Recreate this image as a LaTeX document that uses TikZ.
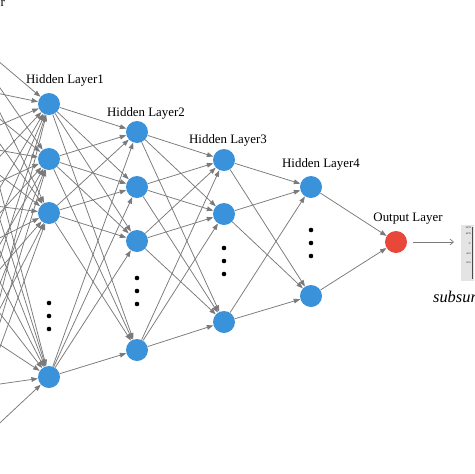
\documentclass[tikz,border=0pt]{standalone}
\usepackage{fontspec}
\setmainfont{Liberation Serif}
\usetikzlibrary{arrows.meta, positioning}
\definecolor{NNblue}{HTML}{3A92DB}
\definecolor{NNred}{HTML}{E8473A}
\definecolor{NNgray}{HTML}{7A7A7A}
\definecolor{NNpanel}{HTML}{E4E4E4}
\begin{document}
\begin{tikzpicture}[x=0.03cm, y=-0.03cm,
   neuron/.style={circle, fill=NNblue, minimum size=0.66cm, inner sep=0pt},
   outneuron/.style={neuron, fill=NNred},
   link/.style={-{Triangle[length=5.5pt, width=4pt]}, NNgray, line width=0.65pt},
   layerlbl/.style={font=\fontsize{11}{12}\selectfont},
   vdot/.style={fill=black}]
   \useasboundingbox (0,0) rectangle (474,474);
   \clip (0,0) rectangle (474,474);
   % Input layer (left of the frame)
   \foreach \n/\y in {1/27, 2/85, 3/143, 4/201, 5/259, 6/317, 7/390, 8/462}
      \node[neuron] (i\n) at (-42,\y) {};
   \node[layerlbl, anchor=east] (lin) at (9,4) {Input Layer};
   % Hidden layers
   \foreach \n/\y in {1/104, 2/159, 3/213, 4/377}
      \node[neuron] (a\n) at (49,\y) {};
   \foreach \n/\y in {1/132, 2/187, 3/241, 4/350}
      \node[neuron] (b\n) at (137,\y) {};
   \foreach \n/\y in {1/160, 2/214, 3/322}
      \node[neuron] (c\n) at (224,\y) {};
   \foreach \n/\y in {1/187, 2/296}
      \node[neuron] (d\n) at (311,\y) {};
   % Output layer
   \node[outneuron] (o) at (396,242) {};
   % Dots
   \foreach \x/\y in {49/303, 137/278, 224/248, 311/230}
      \foreach \k in {0,13,26}
         \fill[vdot] (\x,\y+\k) circle (2.3);
   % Labels
   \node[layerlbl] (l1) at (65,80) {Hidden Layer1};
   \node[layerlbl] (l2) at (146,113) {Hidden Layer2};
   \node[layerlbl] (l3) at (228,140) {Hidden Layer3};
   \node[layerlbl] (l4) at (321,164) {Hidden Layer4};
   \node[layerlbl] (lo) at (408,219) {Output Layer};
   % Connections
   \foreach \s in {1,...,8}
      \foreach \t in {1,...,4}
         \draw[link] (i\s) -- (a\t);
   \foreach \s in {1,...,4}
      \foreach \t in {1,...,4}
         \draw[link] (a\s) -- (b\t);
   \foreach \s in {1,...,4}
      \foreach \t in {1,...,3}
         \draw[link] (b\s) -- (c\t);
   \foreach \s in {1,...,3}
      \foreach \t in {1,...,2}
         \draw[link] (c\s) -- (d\t);
   \foreach \s in {1,...,2}
      \draw[link] (d\s) -- (o);
   % Result panel
   \fill[NNpanel] (461,225) rectangle (476,281);
   \draw[black!70, line width=0.4pt] (472,227) -- (472,279);
   \foreach \y/\t in {228/60°N, 234/40°N, 244/0°, 254/40°S, 263/60°S}
      \node[font=\fontsize{2}{2}\selectfont, anchor=east, inner sep=0.3pt] at (471.5,\y) {\t};
   \coordinate (fig) at (454,242);
   \draw[-{Straight Barb[length=3pt, width=5pt]}, NNgray, line width=0.6pt] ([xshift=5pt]o.east) -- (fig);
   \node[font=\fontsize{14}{16}\selectfont\itshape, anchor=west] (res) at (429,297) {subsur};
\end{tikzpicture}
\end{document}
